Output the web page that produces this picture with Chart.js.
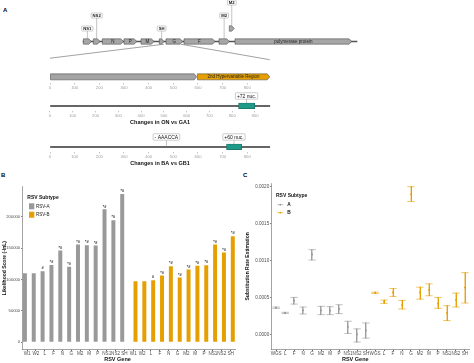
<!DOCTYPE html>
<html lang="en">
<head>
<meta charset="UTF-8">
<title>RSV gene map, likelihood scores and substitution rates</title>
<script src="https://cdn.jsdelivr.net/npm/chart.js"></script>
<style>
  body { margin: 0; background: #fff; }
  #fig { position: relative; width: 474px; height: 363px; overflow: hidden; font-family: "Liberation Sans", Arial, sans-serif; }
  #fig canvas { position: absolute; }
  .tag { position: absolute; font-weight: bold; font-size: 6px; color: #000; }
</style>
</head>
<body>
<div id="fig">
  <div class="tag" style="left:3px;top:7px">A</div>
  <div class="tag" style="left:1px;top:172px">B</div>
  <div class="tag" style="left:243px;top:172px">C</div>
  <canvas id="map" width="295" height="52" style="left:70px;top:-4px"></canvas>
  <canvas id="trackG" width="260" height="47" style="left:30px;top:44px"></canvas>
  <canvas id="trackON" width="260" height="36" style="left:30px;top:90px"></canvas>
  <canvas id="trackBA" width="260" height="36" style="left:30px;top:131px"></canvas>
  <canvas id="likeChart" width="237" height="193" style="left:0;top:170px"></canvas>
  <canvas id="rateChart" width="237" height="193" style="left:237px;top:170px"></canvas>
</div>
<script>
// ---- A: genome map (nt positions) ----
const genomeLength = 15210;
const geneNames  = ['NS1', 'NS2', 'N', 'P', 'M', 'SH', 'G', 'F', 'M2', 'M2', 'L'];
const geneStart  = [20, 572, 1071, 2276, 3219, 4235, 4606, 5606, 7548, 8120, 8436];
const geneEnd    = [460, 944, 2237, 2980, 3940, 4496, 5533, 7326, 8120, 8397, 14913];
const geneRow    = ['row0', 'row0', 'row0', 'row0', 'row0', 'row0', 'row0', 'row0', 'row0', 'row1', 'row0'];
const geneInside = ['', '', 'N', 'P', 'M', '', 'G', 'F', '', '', 'polymerase protein'];
const geneTagRow = ['row1', 'row2', '', '', '', 'row1', '', '', 'row2', 'row3', ''];
const mapRows    = ['row3', 'row2', 'row1', 'row0'];

// G gene close-up
const gPartText  = ['', '2nd Hypervariable Region'];
const gPartStart = [0, 598];
const gPartEnd   = [595, 891];
const gTicks  = [0, 100, 200, 300, 400, 500, 600, 700, 800];
const onTicks = [0, 100, 200, 300, 400, 500, 600, 700, 800, 900];

// ON vs GA1, BA vs GB1
const onLine = [0, 965];
const onDup = [828, 899];
const onNote = ['+72 nuc.'];
const onNoteAt = [863];
const baLine = [0, 891];
const baDup = [716, 777];
const baNote = ['- AAACCA', '+60 nuc.'];
const baNoteAt = [472, 746];

// ---- B: likelihood score per gene ----
const likeGenes = ['W1', 'W2', 'L', 'F', 'N', 'G', 'M2', 'M', 'P', 'NS1', 'NS2', 'SH'];
const scoreA = [110100, 110100, 113300, 123400, 146300, 120700, 155900, 154800, 154300, 212200, 194700, 236700];
const scoreB = [97300, 97300, 98900, 106400, 121300, 103200, 116000, 122300, 122900, 155900, 143100, 169100];
const markA = ['', '', '#', '*#', '*#', '*#', '*#', '*#', '*#', '*#', '*#', '*#'];
const markB = ['', '', '#', '*#', '*#', '*#', '*#', '*#', '*#', '*#', '*#', '*#'];
const likeTicks = [0, 50000, 100000, 150000, 200000];

// ---- C: substitution rate estimates ----
const rateGenes = ['WGS', 'L', 'F', 'N', 'G', 'M2', 'M', 'P', 'NS1', 'NS2', 'SH'];
const rateA = [0.000366, 0.000295, 0.00046, 0.00033, 0.001085, 0.00033, 0.000326, 0.000348, 0.000107, 0.0000045, 0.000058];
const lowA  = [0.000357, 0.000287, 0.000415, 0.000281, 0.00101, 0.000272, 0.000272, 0.000286, 0.000018, -0.000098, -0.000045];
const highA = [0.000375, 0.000304, 0.000505, 0.000375, 0.00115, 0.000384, 0.00038, 0.000406, 0.000183, 0.00008, 0.00016];
const rateB = [0.000567, 0.000446, 0.000571, 0.000402, 0.001897, 0.000571, 0.000607, 0.00042, 0.000295, 0.000469, 0.000638];
const lowB  = [0.000558, 0.000424, 0.000518, 0.000348, 0.0018, 0.000482, 0.000527, 0.000357, 0.000192, 0.000375, 0.000429];
const highB = [0.000576, 0.000469, 0.000625, 0.000464, 0.002, 0.000643, 0.000688, 0.000504, 0.000393, 0.000563, 0.000839];
const rateTicks = [0, 0.0005, 0.001, 0.0015, 0.002];

const legendTitle = 'RSV Subtype';
const grey = '#999999', orange = '#E69F00';
const FONT = '"Liberation Sans", Arial, sans-serif';
Chart.defaults.font.family = FONT;
Chart.defaults.color = '#4d4d4d';

function arrowPath(ctx, x0, x1, yc, h) {
  const tip = Math.min(2.5, (x1 - x0) * 0.5);
  ctx.beginPath();
  ctx.moveTo(x0, yc - h / 2);
  ctx.lineTo(x1 - tip, yc - h / 2);
  ctx.lineTo(x1, yc);
  ctx.lineTo(x1 - tip, yc + h / 2);
  ctx.lineTo(x0, yc + h / 2);
  ctx.closePath();
}

function labelBox(ctx, text, cx, cy, font, h) {
  ctx.save();
  ctx.font = font;
  const w = ctx.measureText(text).width + 3;
  ctx.beginPath();
  ctx.roundRect(cx - w / 2, cy - h / 2, w, h, 0.8);
  ctx.fillStyle = '#fff';
  ctx.fill();
  ctx.strokeStyle = '#9a9a9a';
  ctx.lineWidth = 0.5;
  ctx.stroke();
  ctx.fillStyle = '#111';
  ctx.textAlign = 'center';
  ctx.textBaseline = 'middle';
  ctx.fillText(text, cx, cy + 0.2);
  ctx.restore();
}

// draws gene arrows on top of (transparent) floating bars
const arrowPlugin = {
  id: 'arrows',
  afterDatasetsDraw(chart) {
    const ctx = chart.ctx;
    chart.data.datasets.forEach((ds, di) => {
      if (!ds.arrowFill) return;
      chart.getDatasetMeta(di).data.forEach((el, i) => {
        const x0 = Math.min(el.base, el.x), x1 = Math.max(el.base, el.x);
        ctx.save();
        arrowPath(ctx, x0, x1, el.y, el.height);
        ctx.fillStyle = ds.arrowFill[i];
        ctx.fill();
        ctx.lineWidth = 0.5;
        ctx.strokeStyle = '#3a3a3a';
        ctx.stroke();
        if (ds.arrowText[i]) {
          ctx.fillStyle = '#222';
          ctx.font = '4.5px ' + FONT;
          ctx.textAlign = 'center';
          ctx.textBaseline = 'middle';
          ctx.fillText(ds.arrowText[i], (x0 + x1) / 2, el.y + 0.2);
        }
        ctx.restore();
      });
    });
  }
};

const tagPlugin = {
  id: 'geneTags',
  afterDatasetsDraw(chart) {
    const ctx = chart.ctx, ys = chart.scales.y;
    const meta = chart.getDatasetMeta(0);
    geneTagRow.forEach((row, i) => {
      if (!row) return;
      const el = meta.data[i];
      const cx = (el.x + el.base) / 2;
      const ty = ys.getPixelForValue(mapRows.indexOf(row));
      ctx.save();
      ctx.strokeStyle = '#888';
      ctx.lineWidth = 0.5;
      ctx.beginPath();
      ctx.moveTo(cx, ty + 2);
      ctx.lineTo(cx, el.y - el.height / 2);
      ctx.stroke();
      ctx.restore();
      labelBox(ctx, geneNames[i], cx, ty, 'bold 4.2px ' + FONT, 5);
    });
  }
};

const notePlugin = {
  id: 'notes',
  afterDatasetsDraw(chart) {
    const ds = chart.data.datasets[0];
    if (!ds.notes) return;
    const ctx = chart.ctx, xs = chart.scales.x, ys = chart.scales.y;
    const labY = ys.getPixelForValue(0);
    const dup = chart.getDatasetMeta(0).data[0];
    ds.notes.text.forEach((t, i) => {
      const cx = xs.getPixelForValue(ds.notes.at[i]);
      const inDup = cx >= Math.min(dup.base, dup.x) && cx <= Math.max(dup.base, dup.x);
      const yEnd = inDup ? dup.y - dup.height / 2 : dup.y;
      ctx.save();
      ctx.strokeStyle = '#888';
      ctx.lineWidth = 0.5;
      ctx.beginPath();
      ctx.moveTo(cx, labY + 3);
      ctx.lineTo(cx, yEnd);
      ctx.stroke();
      ctx.restore();
      labelBox(ctx, t, cx, labY, '5px ' + FONT, 6.4);
    });
  }
};

const mapChart = new Chart(document.getElementById('map'), {
  type: 'bar',
  data: {
    labels: mapRows,
    datasets: [
      {
        data: geneNames.map((g, i) => ({ x: [geneStart[i], geneEnd[i]], y: geneRow[i] })),
        backgroundColor: 'rgba(0,0,0,0)', barThickness: 5.4, grouped: false, order: 0,
        arrowFill: geneNames.map(() => '#A6A6A6'), arrowText: geneInside
      },
      { data: [{ x: [0, genomeLength], y: 'row0' }], backgroundColor: '#555', barThickness: 0.8, grouped: false, order: 1 }
    ]
  },
  options: {
    indexAxis: 'y', responsive: false, animation: false, events: [],
    layout: { padding: 0 },
    plugins: { legend: { display: false }, tooltip: { enabled: false } },
    scales: {
      x: { type: 'linear', min: -722, max: 15654, display: false },
      y: { type: 'category', offset: true, display: false }
    }
  },
  plugins: [arrowPlugin, tagPlugin]
});

// lines from the G gene down to its close-up
const zoomLinePlugin = {
  id: 'zoomLines',
  beforeDatasetsDraw(chart) {
    const ctx = chart.ctx, xs = chart.scales.x;
    const g = mapChart.getDatasetMeta(0).data[geneNames.indexOf('G')];
    const mapEl = document.getElementById('map'), here = chart.canvas;
    const dx = mapEl.offsetLeft - here.offsetLeft, dy = mapEl.offsetTop - here.offsetTop;
    const gy = g.y + g.height / 2 + dy;
    const yTop = chart.chartArea.top - 12.5;
    ctx.save();
    ctx.strokeStyle = '#8a8a8a';
    ctx.lineWidth = 0.8;
    ctx.beginPath();
    ctx.moveTo(g.base + dx - 2, gy);
    ctx.lineTo(xs.getPixelForValue(0), yTop);
    ctx.moveTo(g.x + dx - 2, gy);
    ctx.lineTo(xs.getPixelForValue(gPartEnd[1]), yTop + 1.5);
    ctx.stroke();
    ctx.restore();
  }
};

function trackChart(id, o) {
  return new Chart(document.getElementById(id), {
    type: 'bar',
    data: { labels: o.rows, datasets: o.datasets },
    options: {
      indexAxis: 'y', responsive: false, animation: false, events: [],
      layout: { padding: { top: o.padTop, left: 0, right: 0, bottom: 0 } },
      plugins: {
        legend: { display: false }, tooltip: { enabled: false },
        title: o.title
          ? { display: true, text: o.title, position: 'bottom', color: '#111', font: { size: 5.5, weight: 'bold' }, padding: { top: 0.5, bottom: 0 } }
          : { display: false }
      },
      scales: {
        x: {
          type: 'linear', min: o.min, max: o.max,
          border: { display: false },
          grid: { drawOnChartArea: false, tickLength: 1.5, color: '#c4c4c4' },
          ticks: { color: '#a0a0a0', font: { size: 4.2 }, padding: 0.5, maxRotation: 0, autoSkip: false, callback: v => String(v) },
          afterBuildTicks: s => { s.ticks = o.ticks.map(value => ({ value })); },
          afterFit: a => { a.height = 8; }
        },
        y: { type: 'category', offset: true, display: false }
      }
    },
    plugins: [arrowPlugin, notePlugin].concat(o.plugins || [])
  });
}

trackChart('trackG', {
  rows: ['g'], padTop: 26.7, min: -81.1, max: 973.2, ticks: gTicks,
  datasets: [{
    data: gPartText.map((t, i) => ({ x: [gPartStart[i], gPartEnd[i]], y: 'g' })),
    backgroundColor: 'rgba(0,0,0,0)', barThickness: 6, grouped: false,
    arrowFill: ['#A3A3A3', orange], arrowText: gPartText
  }],
  plugins: [zoomLinePlugin]
});

function dupSets(dup, line, notes) {
  return [
    { data: [{ x: dup, y: 'trk' }], backgroundColor: '#1F9A89', borderColor: '#145F55', borderWidth: 0.6, borderSkipped: false,
      barThickness: 5.7, grouped: false, order: 0, notes },
    { data: [{ x: line, y: 'trk' }], backgroundColor: '#333', barThickness: 0.9, grouped: false, order: 1 }
  ];
}

trackChart('trackON', {
  rows: ['lab', 'trk'], padTop: 1, min: -87.8, max: 1053.7, ticks: onTicks,
  title: 'Changes in ON vs GA1',
  datasets: dupSets(onDup, onLine, { text: onNote, at: onNoteAt })
});

trackChart('trackBA', {
  rows: ['lab', 'trk'], padTop: 1, min: -81.1, max: 973.2, ticks: gTicks,
  title: 'Changes in BA vs GB1',
  datasets: dupSets(baDup, baLine, { text: baNote, at: baNoteAt })
});

// ---- shared axis pieces for B and C ----
function geneAxis(labels) {
  return {
    type: 'category', labels, position: 'bottom', stack: 'gene', offset: true,
    grid: { drawOnChartArea: false, offset: false, tickLength: 1.5, color: '#666' },
    border: { color: '#666', width: 0.6 },
    ticks: { autoSkip: false, maxRotation: 0, minRotation: 0, font: { size: 4.6 }, color: '#4d4d4d', padding: 0.3 },
    afterFit: a => { a.height = 6.3; }
  };
}
const xTitle = { display: true, text: 'RSV Gene', position: 'bottom', color: '#111', font: { size: 5.5, weight: 'bold' }, padding: { top: 0, bottom: 0.5 } };

const marksPlugin = {
  id: 'marks',
  afterDatasetsDraw(chart) {
    const ctx = chart.ctx;
    ctx.save();
    ctx.font = 'bold 3.8px ' + FONT;
    ctx.fillStyle = '#222';
    ctx.textAlign = 'center';
    ctx.textBaseline = 'bottom';
    chart.data.datasets.forEach((ds, di) => {
      chart.getDatasetMeta(di).data.forEach((el, i) => {
        if (ds.marks[i]) ctx.fillText(ds.marks[i], el.x, el.y - 1);
      });
    });
    ctx.restore();
  }
};

const likeLegend = {
  id: 'likeLegend',
  afterDraw(chart) {
    const ctx = chart.ctx;
    ctx.save();
    ctx.textBaseline = 'middle';
    ctx.fillStyle = '#111';
    ctx.font = 'bold 5px ' + FONT;
    ctx.fillText(legendTitle, 27.3, 27.5);
    chart.data.datasets.forEach((ds, i) => {
      const y = 36.3 + i * 8.4;
      ctx.fillStyle = ds.backgroundColor;
      ctx.fillRect(29, y - 3, 5.3, 6);
      ctx.fillStyle = '#222';
      ctx.font = '4.5px ' + FONT;
      ctx.fillText(ds.label, 36, y);
    });
    ctx.restore();
  }
};

new Chart(document.getElementById('likeChart'), {
  type: 'bar',
  data: {
    datasets: [
      { label: 'RSV-A', data: scoreA, xAxisID: 'xa', backgroundColor: grey, categoryPercentage: 1, barPercentage: 0.9, marks: markA },
      { label: 'RSV-B', data: scoreB, xAxisID: 'xb', backgroundColor: orange, categoryPercentage: 1, barPercentage: 0.9, marks: markB }
    ]
  },
  options: {
    responsive: false, animation: false, events: [],
    layout: { padding: { top: 16.6, right: 2, left: 0, bottom: 0 } },
    plugins: { legend: { display: false }, tooltip: { enabled: false }, title: xTitle },
    scales: {
      xa: geneAxis(likeGenes),
      xb: geneAxis(likeGenes),
      y: {
        min: -11835, max: 248535,
        ticks: { font: { size: 4.2 }, color: '#4d4d4d', padding: 1, callback: v => String(v) },
        afterBuildTicks: s => { s.ticks = likeTicks.map(value => ({ value })); },
        grid: { drawOnChartArea: false, tickLength: 1.5, color: '#666' },
        border: { color: '#666', width: 0.6 },
        title: { display: true, text: 'Likelihood Score (-lnL)', color: '#111', font: { size: 5, weight: 'bold' }, padding: { top: 1.2, bottom: 0 } },
        afterFit: a => { a.width = 22.7; }
      }
    }
  },
  plugins: [marksPlugin, likeLegend]
});

function rateSets(label, axis, color, rate, low, high) {
  return [
    { type: 'line', label, data: rate, xAxisID: axis, showLine: false, pointStyle: 'circle', pointRadius: 0.9,
      pointBackgroundColor: color, pointBorderWidth: 0, legendKey: color },
    { type: 'line', data: low, xAxisID: axis, showLine: false, pointStyle: 'line', pointRadius: 3.7,
      pointBorderColor: color, pointBorderWidth: 0.6 },
    { type: 'line', data: high, xAxisID: axis, showLine: false, pointStyle: 'line', pointRadius: 3.7,
      pointBorderColor: color, pointBorderWidth: 0.6 },
    { type: 'bar', data: low.map((v, i) => [v, high[i]]), xAxisID: axis, backgroundColor: color, barThickness: 0.7 }
  ];
}

const rateLegend = {
  id: 'rateLegend',
  afterDraw(chart) {
    const ctx = chart.ctx;
    ctx.save();
    ctx.textBaseline = 'middle';
    ctx.fillStyle = '#111';
    ctx.font = 'bold 5px ' + FONT;
    ctx.fillText(legendTitle, 39, 26);
    chart.data.datasets.filter(d => d.legendKey).forEach((ds, i) => {
      const y = 34.7 + i * 8;
      ctx.strokeStyle = ds.legendKey;
      ctx.lineWidth = 0.6;
      ctx.beginPath();
      ctx.moveTo(40.3, y);
      ctx.lineTo(46.3, y);
      ctx.stroke();
      ctx.fillStyle = ds.legendKey;
      ctx.beginPath();
      ctx.arc(43.3, y, 0.9, 0, Math.PI * 2);
      ctx.fill();
      ctx.fillStyle = '#111';
      ctx.font = 'bold 4.8px ' + FONT;
      ctx.fillText(ds.label, 50.3, y);
    });
    ctx.restore();
  }
};

new Chart(document.getElementById('rateChart'), {
  type: 'bar',
  data: {
    datasets: rateSets('A', 'ca', grey, rateA, lowA, highA).concat(rateSets('B', 'cb', orange, rateB, lowB, highB))
  },
  options: {
    responsive: false, animation: false, events: [],
    layout: { padding: { top: 13, right: 0.5, left: 0, bottom: 0 } },
    plugins: { legend: { display: false }, tooltip: { enabled: false }, title: xTitle },
    scales: {
      ca: geneAxis(rateGenes),
      cb: geneAxis(rateGenes),
      y: {
        min: -0.0002, max: 0.00205,
        ticks: { font: { size: 4.6 }, color: '#4d4d4d', padding: 1, callback: v => Number(v).toFixed(4) },
        afterBuildTicks: s => { s.ticks = rateTicks.map(value => ({ value })); },
        grid: { drawOnChartArea: false, tickLength: 1.5, color: '#666' },
        border: { color: '#666', width: 0.6 },
        title: { display: true, text: 'Substitution Rate Estimation', color: '#111', font: { size: 5, weight: 'bold' }, padding: { top: 8, bottom: 0 } },
        afterFit: a => { a.width = 34.7; }
      }
    }
  },
  plugins: [rateLegend]
});
</script>
</body>
</html>
